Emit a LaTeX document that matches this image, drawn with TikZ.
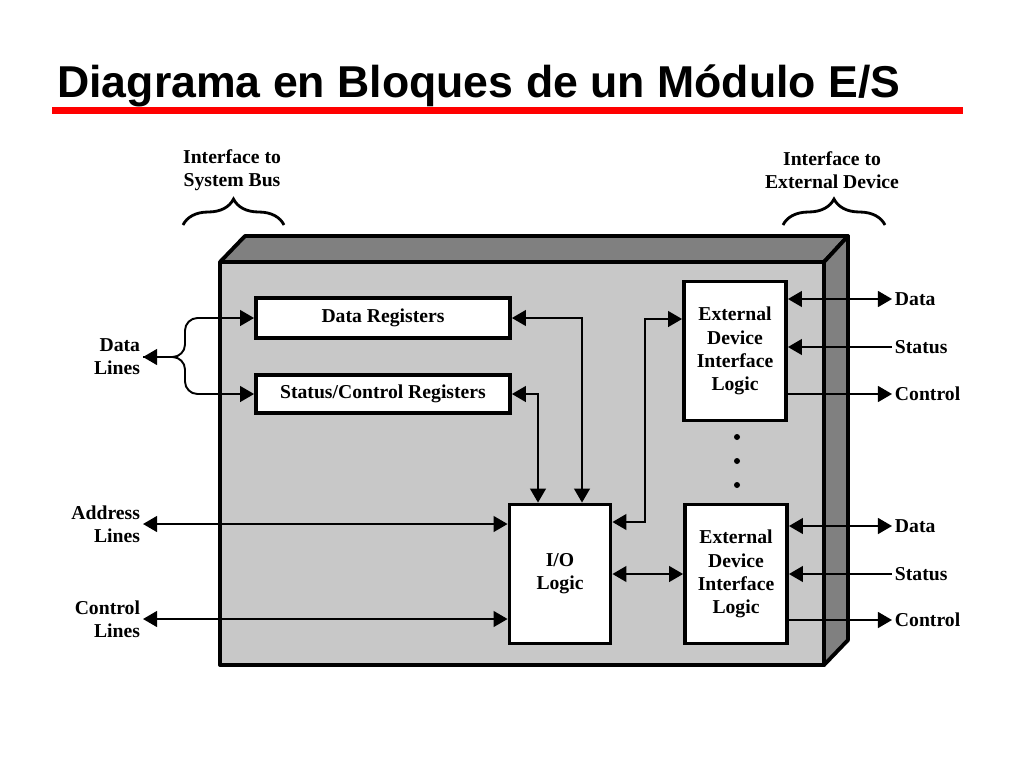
\documentclass[tikz,border=0pt]{standalone}
\usepackage{fontspec}
\setmainfont{Liberation Serif}
\newfontfamily\titlefont{Liberation Sans}
\usetikzlibrary{arrows.meta,decorations.pathreplacing,calc}

\definecolor{facegray}{RGB}{200,200,200}
\definecolor{edgegray}{RGB}{128,128,128}
\definecolor{titlered}{RGB}{255,0,0}

\begin{document}
\begin{tikzpicture}
[x=0.02cm, y=-0.02cm, >={Triangle[length=8pt,width=9pt]},
 every node/.style={font=\bfseries\fontsize{11.2}{13.2}\selectfont},
 block/.style={draw, line width=2.2pt, fill=white, inner sep=0pt, align=center},
 lbl/.style={inner sep=1.5pt, align=right, anchor=east},
 rlbl/.style={inner sep=1.5pt, anchor=west},
 link/.style={line width=1.1pt},
 wall/.style={draw, line width=2.2pt, line join=round}]
\useasboundingbox (0,0) rectangle (1024,768);

% title
\node[anchor=base west, inner sep=0pt, font=\titlefont\bfseries\fontsize{25.4}{30}\selectfont] (title) at (57,97) {Diagrama en Bloques de un Módulo E/S};
\fill[titlered] (52,107) rectangle (963,114);

% module body
\draw[wall, fill=facegray] (220,262) rectangle (824,665);
\draw[wall, fill=edgegray] (220,262) -- (245,236) -- (848,236) -- (824,262) -- cycle;
\draw[wall, fill=edgegray] (824,262) -- (848,236) -- (848,640) -- (824,665) -- cycle;

% blocks
\node[block, minimum width=5.08cm, minimum height=0.8cm] (dreg) at (383,318) {Data Registers};
\node[block, minimum width=5.08cm, minimum height=0.76cm] (sreg) at (383,394) {Status/Control Registers};
\node[block, minimum width=2.02cm, minimum height=2.78cm] (io) at (560,574) {I/O\\Logic};
\node[block, minimum width=2.04cm, minimum height=2.78cm] (ext1) at (735,351) {External\\Device\\Interface\\Logic};
\node[block, minimum width=2.04cm, minimum height=2.78cm] (ext2) at (736,574) {External\\Device\\Interface\\Logic};

\foreach \y in {437,461,485}
	\fill (737,\y) circle[radius=3];

% labels
\node[align=center] (sysbus) at (232,170) {Interface to\\System Bus};
\node[align=center] (extdev) at (832,170) {Interface to\\External Device};
\draw[line width=1.6pt, decorate, decoration={brace, amplitude=0.52cm}] (183,225) -- (284,225);
\draw[line width=1.6pt, decorate, decoration={brace, amplitude=0.52cm}] (783,225) -- (885,225);

\node[lbl] (dlines) at (143,357) {Data\\Lines};
\node[lbl] (alines) at (143,524) {Address\\Lines};
\node[lbl] (clines) at (143,619) {Control\\Lines};

\node[rlbl] (data1) at (892,299) {Data};
\node[rlbl] (stat1) at (892,347) {Status};
\node[rlbl] (ctrl1) at (892,394) {Control};
\node[rlbl] (data2) at (892,526) {Data};
\node[rlbl] (stat2) at (892,574) {Status};
\node[rlbl] (ctrl2) at (892,620) {Control};

% connectors
\draw[link, <->, rounded corners=0.25cm] (dlines.east) -- (185,357) |- (dreg.west);
\draw[link, ->, rounded corners=0.25cm] (dlines.east) -- (185,357) |- (sreg.west);
\draw[link, <->] (dreg.east) -| ($(io.north)+(22,0)$);
\draw[link, <->] (sreg.east) -| ($(io.north)+(-22,0)$);
\draw[link, <->] (io.east |- 0,522) -| (645,319) -- (ext1.west |- 0,319);
\draw[link, <->] (io.east) -- (ext2.west);
\draw[link, <->] (alines.east) -- (alines.east -| io.west);
\draw[link, <->] (clines.east) -- (clines.east -| io.west);

\draw[link, <->] (data1.west -| ext1.east) -- (data1.west);
\draw[link, <-] (stat1.west -| ext1.east) -- (stat1.west);
\draw[link, ->] (ctrl1.west -| ext1.east) -- (ctrl1.west);
\draw[link, <->] (data2.west -| ext2.east) -- (data2.west);
\draw[link, <-] (stat2.west -| ext2.east) -- (stat2.west);
\draw[link, ->] (ctrl2.west -| ext2.east) -- (ctrl2.west);

\end{tikzpicture}
\end{document}
